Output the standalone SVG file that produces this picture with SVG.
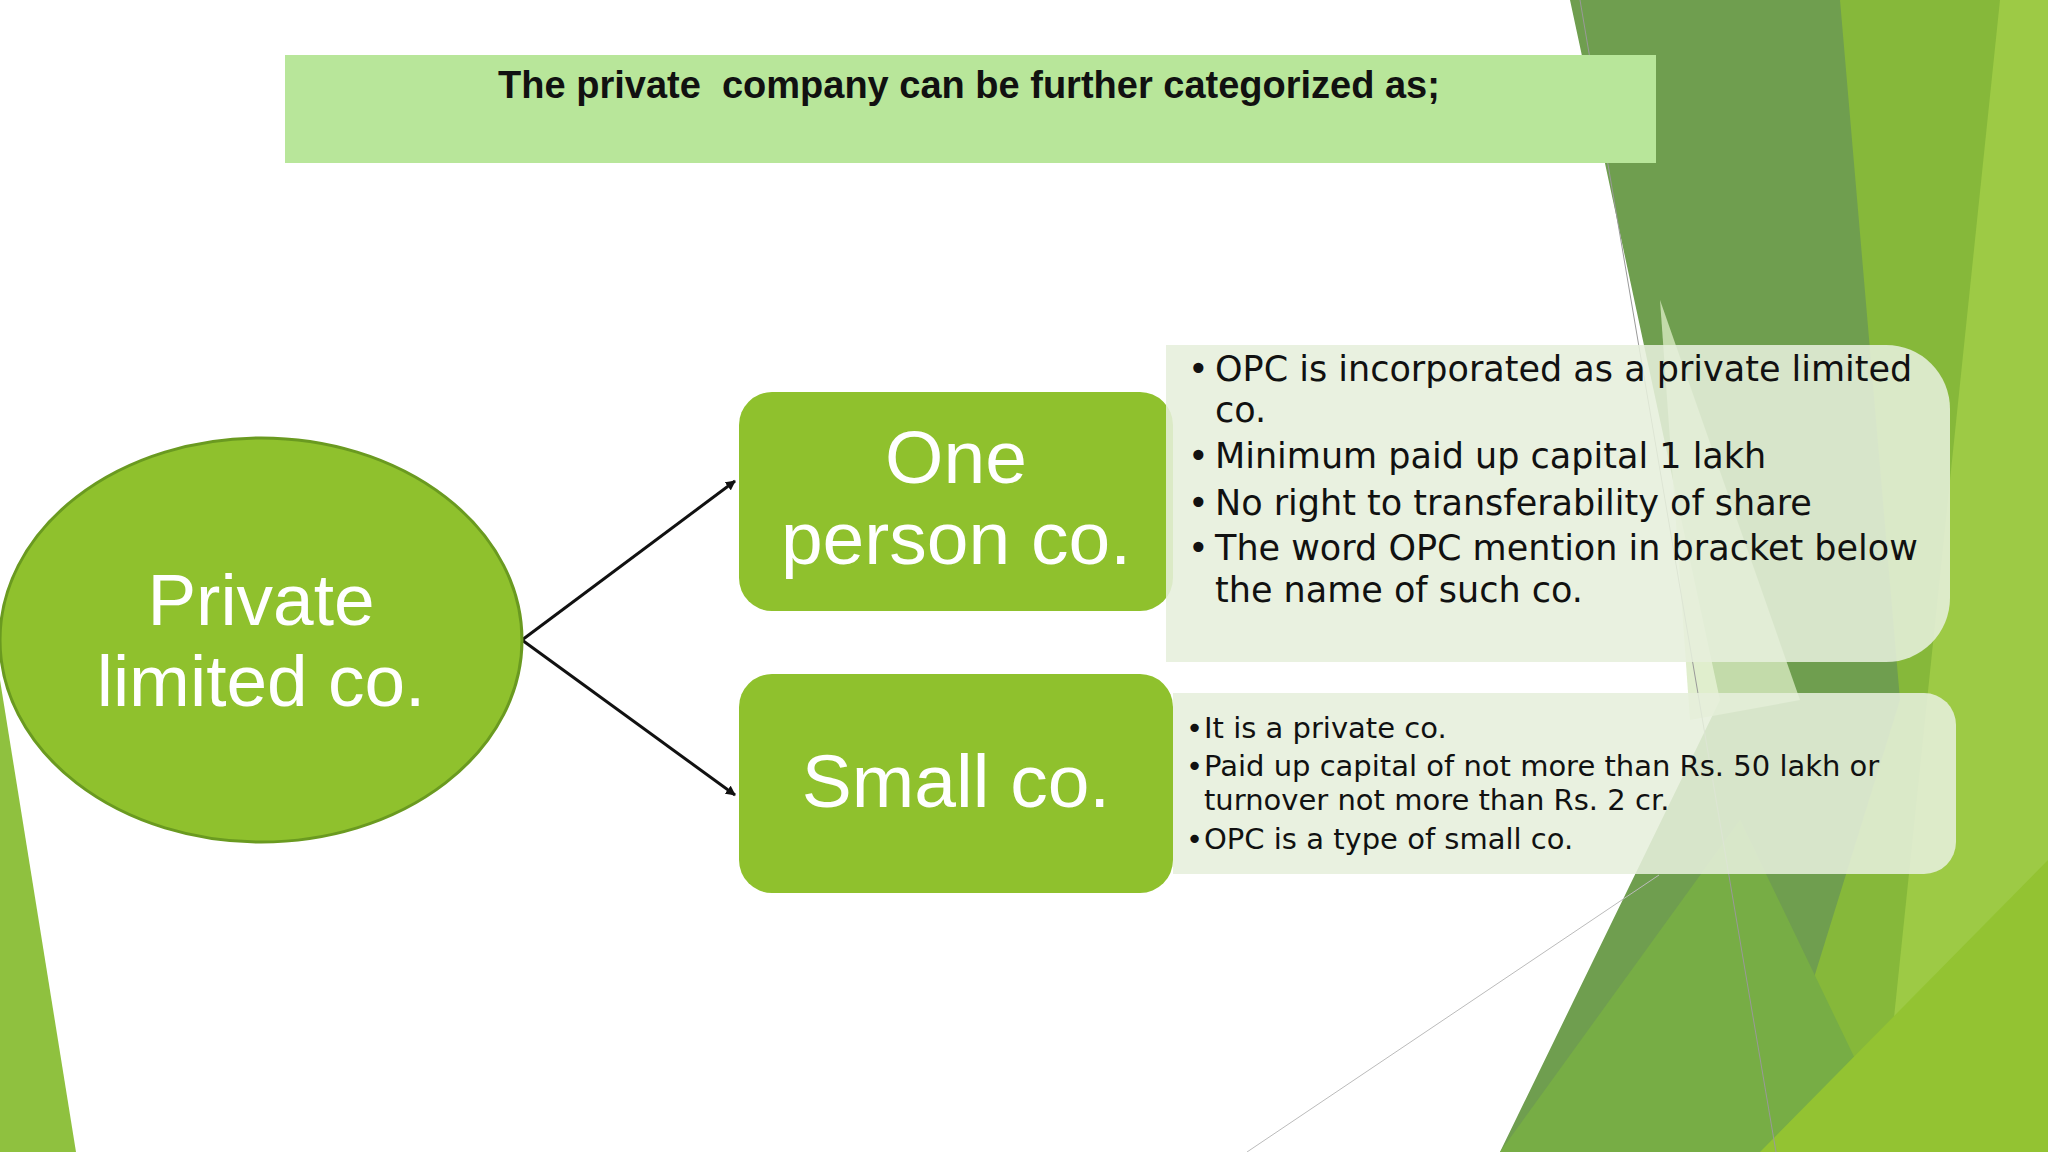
<svg xmlns="http://www.w3.org/2000/svg" width="2048" height="1152" viewBox="0 0 2048 1152">
<defs>
<style>
.t{font-family:"Liberation Sans","DejaVu Sans",sans-serif;}
.d{font-family:"DejaVu Sans","Liberation Sans",sans-serif;}
.w{fill:#fff;text-anchor:middle;}
.b{fill:#111;}
.node{fill:#8fc12d;}
.info{fill:#e6efdc;fill-opacity:0.88;}
</style>
<marker id="ah" markerWidth="10" markerHeight="10" refX="9" refY="5" orient="auto" markerUnits="userSpaceOnUse"><path d="M0,0 L10,5 L0,10 z" fill="#111"/></marker>
</defs>
<rect width="2048" height="1152" fill="#fff"/>
<g id="background">
<polygon points="0,680 76,1152 0,1152" fill="#8fc13f"/>
<polygon points="1570,0 1845,0 1930,560 1820,1152 1500,1152 1720,700" fill="#6f9e4f"/>
<polygon points="1840,0 2048,0 2048,1152 1760,1152 1900,700" fill="#86b83a"/>
<polygon points="2000,0 2048,0 2048,1152 1880,1152" fill="#9dca45"/>
<polygon points="1660,300 1800,700 1690,720" fill="#d8eac0" opacity="0.8"/>
<polygon points="1500,1152 1740,820 1900,1152" fill="#77ad45"/>
<polygon points="1760,1152 2048,860 2048,1152" fill="#93c332"/>
<line x1="1580" y1="0" x2="1776" y2="1152" stroke="#999" stroke-width="1"/>
<line x1="1659" y1="875" x2="1247" y2="1152" stroke="#bbb" stroke-width="1"/>
</g>
<g id="title">
<rect x="285" y="55" width="1371" height="108" fill="#b8e69a"/>
<text class="t b" x="969" y="98" font-size="38" font-weight="bold" text-anchor="middle" xml:space="preserve">The private  company can be further categorized as;</text>
</g>
<g id="connectors">
<line x1="522" y1="640" x2="735" y2="481" stroke="#111" stroke-width="3" marker-end="url(#ah)"/>
<line x1="522" y1="640" x2="735" y2="795" stroke="#111" stroke-width="3" marker-end="url(#ah)"/>
</g>
<g id="private">
<ellipse cx="261" cy="640" rx="261" ry="202" fill="#8fc12d" stroke="#6a9a20" stroke-width="3"/>
<text class="t w" x="261" y="625" font-size="73">Private</text>
<text class="t w" x="261" y="706" font-size="73">limited co.</text>
</g>
<g id="opc">
<rect class="node" x="739" y="392" width="434" height="219" rx="33"/>
<text class="t w" x="956" y="483" font-size="75">One</text>
<text class="t w" x="956" y="564" font-size="75">person co.</text>
</g>
<g id="small">
<rect class="node" x="739" y="674" width="434" height="219" rx="33"/>
<text class="t w" x="956" y="807" font-size="75">Small co.</text>
</g>
<g id="opc-info">
<path class="info" d="M1166,345 H1886 A64,64 0 0 1 1950,409 V598 A64,64 0 0 1 1886,662 H1166 Z"/>
<g class="d b" font-size="35">
<text x="1188" y="381">•</text><text x="1215" y="381">OPC is incorporated as a private limited</text>
<text x="1215" y="422">co.</text>
<text x="1188" y="468">•</text><text x="1215" y="468">Minimum paid up capital 1 lakh</text>
<text x="1188" y="515">•</text><text x="1215" y="515">No right to transferability of share</text>
<text x="1188" y="560">•</text><text x="1215" y="560">The word OPC mention in bracket below</text>
<text x="1215" y="602">the name of such co.</text>
</g>
</g>
<g id="small-info">
<path class="info" d="M1173,693 H1924 A32,32 0 0 1 1956,725 V842 A32,32 0 0 1 1924,874 H1173 Z"/>
<g class="d b" font-size="29">
<text x="1186" y="738">•</text><text x="1204" y="738">It is a private co.</text>
<text x="1186" y="776">•</text><text x="1204" y="776">Paid up capital of not more than Rs. 50 lakh or</text>
<text x="1204" y="810">turnover not more than Rs. 2 cr.</text>
<text x="1186" y="849">•</text><text x="1204" y="849">OPC is a type of small co.</text>
</g>
</g>
</svg>
